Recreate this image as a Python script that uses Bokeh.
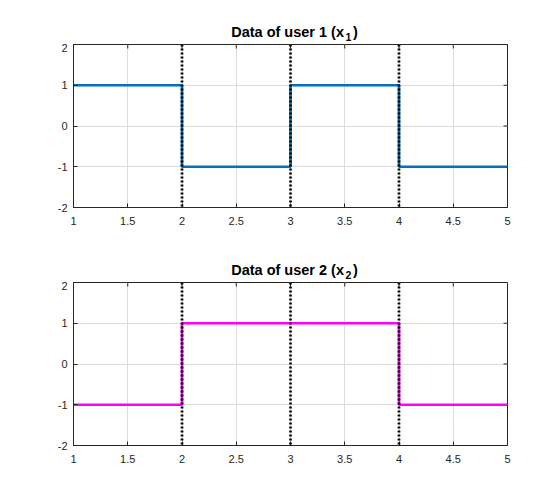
from bokeh.core.properties import value
from bokeh.models import FixedTicker, Span, Range1d
from bokeh.plotting import figure
from bokeh.layouts import column
from bokeh.embed import file_html
from bokeh.resources import INLINE

# Data
x_edges = [1, 2, 3, 4, 5]
user1 = [1, -1, 1, -1, -1]
user2 = [-1, 1, 1, -1, -1]
boundaries = [2, 3, 4]
titles = ["Data of user 1 (x", "Data of user 2 (x"]
subscripts = ["1", "2"]
x_ticks = [1, 1.5, 2, 2.5, 3, 3.5, 4, 4.5, 5]
x_tick_labels = ["1", "1.5", "2", "2.5", "3", "3.5", "4", "4.5", "5"]
y_ticks = [-2, -1, 0, 1, 2]
y_tick_labels = ["-2", "-1", "0", "1", "2"]

FONT = "Liberation Sans"
TXT = "#262626"
X0, X1 = 1, 5
Y0, Y1 = -2, 2
FW, FH = 434, 163
TICK = 4
BASE = 11.5  # title baseline above the bottom of its strip


def style_axis(ax, ticks, labels, standoff):
    ax.ticker = FixedTicker(ticks=ticks)
    ax.major_label_overrides = {t: l for t, l in zip(ticks, labels)}
    ax.minor_tick_line_color = None
    ax.major_tick_in = TICK
    ax.major_tick_out = 0
    ax.major_tick_line_color = TXT
    ax.axis_line_color = TXT
    ax.major_label_text_font = FONT
    ax.major_label_text_font_size = "11px"
    ax.major_label_text_color = TXT
    ax.major_label_standoff = standoff


def make_title(text, sub, height):
    # title strip in pixel-like coordinates, so the subscript can sit beside the text
    t = figure(frame_width=FW, frame_height=height, x_range=Range1d(0, FW), y_range=Range1d(0, height),
               output_backend="svg", toolbar_location=None, x_axis_location=None, y_axis_location=None,
               min_border_left=73, min_border_right=45, min_border_top=0, min_border_bottom=0)
    t.outline_line_color = None
    t.grid.visible = False
    t.border_fill_color = "white"
    t.text(x=[270.5], y=[BASE], text=[text], text_align="right", text_baseline="alphabetic",
           text_font=value(FONT), text_font_style="bold", text_font_size="14.5px", text_color="black")
    t.text(x=[272], y=[BASE - 5.2], text=[sub], text_align="left", text_baseline="alphabetic",
           text_font=value(FONT), text_font_style="bold", text_font_size="10.5px", text_color="black")
    t.text(x=[279.5], y=[BASE], text=[")"], text_align="left", text_baseline="alphabetic",
           text_font=value(FONT), text_font_style="bold", text_font_size="14.5px", text_color="black")
    return t


def make_panel(yvals, color, bottom):
    p = figure(frame_width=FW, frame_height=FH, x_range=Range1d(X0, X1), y_range=Range1d(Y0, Y1),
               output_backend="svg", toolbar_location=None,
               min_border_left=73, min_border_right=45, min_border_top=1, min_border_bottom=bottom)
    p.outline_line_color = TXT
    p.outline_line_alpha = 1
    p.background_fill_color = "white"
    p.border_fill_color = "white"

    style_axis(p.xaxis[0], x_ticks, x_tick_labels, 9)
    style_axis(p.yaxis[0], y_ticks, y_tick_labels, 6)

    p.xgrid.ticker = FixedTicker(ticks=x_ticks)
    p.ygrid.ticker = FixedTicker(ticks=y_ticks)
    p.grid.grid_line_color = "#dcdcdc"

    # inward ticks on top and right edges (box on)
    dy = TICK * (Y1 - Y0) / FH
    dx = TICK * (X1 - X0) / FW
    p.segment(x0=x_ticks, y0=[Y1] * len(x_ticks), x1=x_ticks, y1=[Y1 - dy] * len(x_ticks),
              line_color=TXT, line_width=1)
    p.segment(x0=[X1] * len(y_ticks), y0=y_ticks, x1=[X1 - dx] * len(y_ticks), y1=y_ticks,
              line_color=TXT, line_width=1)

    p.step(x_edges, yvals, mode="after", line_color=color, line_width=2.7)
    for b in boundaries:
        p.add_layout(Span(location=b, dimension="height", line_color="black",
                          line_width=2.7, line_dash="2 2"))
    return p


t1 = make_title(titles[0], subscripts[0], 43)
p1 = make_panel(user1, "#0072BD", 38)
t2 = make_title(titles[1], subscripts[1], 36)
p2 = make_panel(user2, "#FF00FF", 40)
p = column(t1, p1, t2, p2)

open("out.html", "w").write(file_html(p, INLINE))
